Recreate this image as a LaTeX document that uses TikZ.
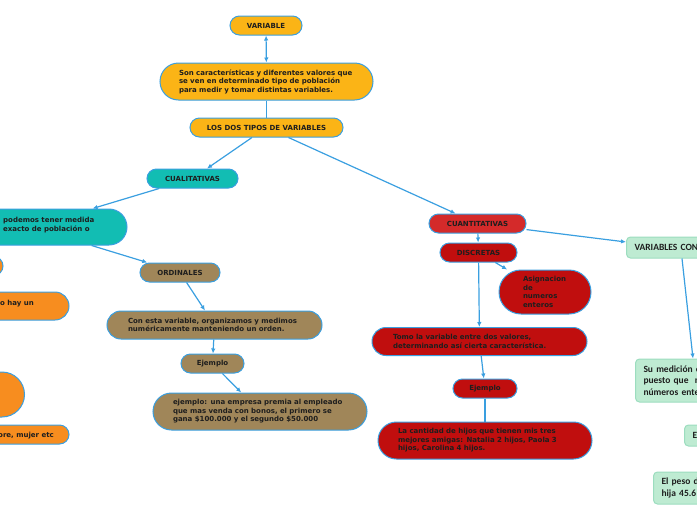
\documentclass[tikz,border=0pt]{standalone}
\usepackage{fontspec}
\setmainfont{DejaVu Sans}
\newfontfamily\calibri{Carlito}
\usetikzlibrary{arrows.meta}
\definecolor{azul}{HTML}{3A9FE0}
\definecolor{amarillo}{HTML}{FBB416}
\definecolor{turquesa}{HTML}{12BDB3}
\definecolor{cafe}{HTML}{A08659}
\definecolor{naranja}{HTML}{F78D1F}
\definecolor{rojo}{HTML}{D42A2A}
\definecolor{rojooscuro}{HTML}{C00E0E}
\definecolor{menta}{HTML}{BEEBD2}
\definecolor{mentaborde}{HTML}{9CDDBF}
\definecolor{tinta}{HTML}{1E1E1E}

\begin{document}
\begin{tikzpicture}[x=1pt, y=-1pt,
    pill/.style={rectangle, rounded corners=#1, draw=azul, line width=1pt, inner sep=0pt,
      text=tinta, font=\bfseries\fontsize{7}{8.5}\selectfont},
    pill/.default=9.5pt,
    verde/.style={rectangle, rounded corners=4pt, draw=mentaborde, fill=menta, line width=1pt,
      inner xsep=8pt, inner ysep=0pt, text=tinta, align=left,
      font=\calibri\bfseries\fontsize{9.5}{11.5}\selectfont},
    texto/.style={inner sep=0pt, text=tinta, align=left, font=\bfseries\fontsize{7}{8.5}\selectfont},
    flecha/.style={draw=azul, line width=1.2pt, -{Latex[length=5pt,width=4.5pt]}},
    linea/.style={draw=azul, line width=1.2pt}]
    \useasboundingbox (0,0) rectangle (697,520);
    \clip (0,0) rectangle (697,520);
    % variable
    \node[pill, fill=amarillo, minimum width=72pt, minimum height=19pt] (var) at (266,25.5) {VARIABLE};
    \node[pill=18.5pt, fill=amarillo, minimum width=213pt, minimum height=37pt, text width=175pt, align=left] (def) at (266.5,81.5)
        {Son características y diferentes valores que\\ se ven en determinado tipo de población\\ para medir y tomar distintas variables.};
    \node[pill, fill=amarillo, minimum width=153pt, minimum height=19pt] (tipos) at (266.5,127.5) {LOS DOS TIPOS DE VARIABLES};
    % cualitativas
    \node[pill, fill=turquesa, minimum width=91pt, minimum height=19pt] (cuali) at (192.5,178.5) {CUALITATIVAS};
    \node[pill=18pt, fill=turquesa, minimum width=192pt, minimum height=36pt] (nomdef) at (31,227) {};
    \node[texto, anchor=base west] (nomdeft) at (3,231) {podemos tener medida\\ exacto de población o};
    \node[pill, fill=naranja, minimum width=120pt, minimum height=19pt] (nom1) at (-57,266) {};
    \node[pill=14pt, fill=naranja, minimum width=200pt, minimum height=28pt] (nom2) at (-31,306) {};
    \node[texto, anchor=base west] (nom2t) at (0,305.5) {o hay un};
    \node[pill=22.5pt, fill=naranja, minimum width=100pt, minimum height=45pt] (nom3) at (-25.5,394.5) {};
    \node[pill, fill=naranja, minimum width=200pt, minimum height=19pt] (nom4) at (-31,434.5) {};
    \node[texto, anchor=base west] (nom4t) at (-2,437.5) {ore, mujer etc};
    % ordinales
    \node[pill, fill=cafe, minimum width=80pt, minimum height=19pt] (ord) at (180,272.5) {ORDINALES};
    \node[pill=14pt, fill=cafe, minimum width=215pt, minimum height=28pt, text width=173pt, align=left] (orddef) at (214.5,325)
        {Con esta variable, organizamos y medimos\\ numéricamente manteniendo un orden.};
    \node[pill, fill=cafe, minimum width=63pt, minimum height=19pt] (ordej) at (212.5,363.5) {Ejemplo};
    \node[pill=18.5pt, fill=cafe, minimum width=214pt, minimum height=37pt, text width=174pt, align=left] (ordejt) at (260,411.5)
        {ejemplo: una empresa premia al empleado\\ que mas venda con bonos, el primero se\\ gana \$100.000 y el segundo \$50.000};
    % cuantitativas
    \node[pill, fill=rojo, minimum width=97pt, minimum height=19pt] (cuanti) at (477.5,223.5) {CUANTITATIVAS};
    \node[pill, fill=rojooscuro, minimum width=77pt, minimum height=19pt] (disc) at (478.5,252.5) {DISCRETAS};
    \node[pill=22pt, fill=rojooscuro, minimum width=92pt, minimum height=44pt, text width=44pt, align=left] (asig) at (545,292)
        {Asignacion\\ de\\ numeros\\ enteros};
    \node[pill=14pt, fill=rojooscuro, minimum width=215pt, minimum height=28pt, text width=173pt, align=left] (discdef) at (479.5,341.5)
        {Tomo la variable entre dos valores,\\ determinando así cierta característica.};
    \node[pill, fill=rojooscuro, minimum width=64pt, minimum height=19pt] (discej) at (485,388.5) {Ejemplo};
    \node[pill=18.5pt, fill=rojooscuro, minimum width=214pt, minimum height=37pt, text width=174pt, align=left] (discejt) at (485,440.5)
        {La cantidad de hijos que tienen mis tres\\ mejores amigas: Natalia 2 hijos, Paola 3\\ hijos, Carolina 4 hijos.};
    % continuas
    \node[verde, anchor=west, text width=114pt, minimum height=21pt] (cont) at (626,247.5) {VARIABLES CON};
    \node[verde, anchor=west, text width=120pt, minimum height=43pt] (contdef) at (635,380.5)
        {Su medición e\\ puesto que\ \ n\\ números ente};
    \node[verde, anchor=west, text width=40pt, minimum height=21pt] (contej) at (684,435.5) {E};
    \node[verde, anchor=west, text width=60pt, minimum height=32pt] (contejt) at (653,488) {El peso d\\ hija 45.6 l};
    % conectores
    \draw[linea, {Latex[length=5pt,width=4.5pt]}-{Latex[length=5pt,width=4.5pt]}] (def) -- (var);
    \draw[linea] (def) -- (tipos);
    \draw[flecha] (tipos) -- (cuali);
    \draw[flecha] (tipos) -- (cuanti);
    \draw[flecha] (cuali) -- (nomdef);
    \draw[flecha] (nomdef) -- (ord);
    \draw[flecha] (ord) -- (orddef);
    \draw[flecha] (orddef) -- (ordej);
    \draw[flecha] (ordej) -- (ordejt);
    \draw[flecha] (cuanti) -- (disc);
    \draw[flecha] (disc) -- (asig);
    \draw[flecha] (disc) -- (discdef);
    \draw[flecha] (discdef) -- (discej);
    \draw[linea] (discej) -- (discejt);
    \draw[flecha] (cuanti) -- ([yshift=5.5pt]cont.west);
    \draw[flecha] ([xshift=56pt]cont.south west) -- ([xshift=58pt]contdef.north west);
\end{tikzpicture}
\end{document}
